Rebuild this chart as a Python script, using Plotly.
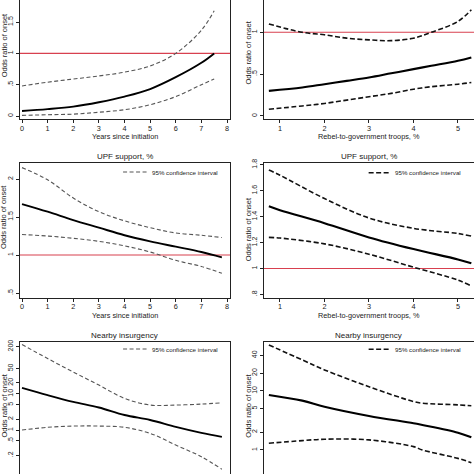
import math
import plotly.graph_objects as go

FONT = "Liberation Sans, Arial, sans-serif"
REF = 1.0

# ---------------- data ----------------
# Panel 1: top-left (years since initiation)
p1_x = [0, 1, 2, 3, 4, 5, 6, 7, 7.5]
p1_est = [0.08, 0.11, 0.15, 0.22, 0.31, 0.43, 0.62, 0.85, 1.0]
p1_up = [0.48, 0.54, 0.59, 0.64, 0.70, 0.80, 1.00, 1.37, 1.68]
p1_lo = [0.01, 0.02, 0.03, 0.06, 0.10, 0.18, 0.31, 0.50, 0.59]

# Panel 2: top-right (rebel-to-government troops)
p2_x = [0.75, 1.5, 2, 2.5, 3, 3.5, 4, 4.4, 5, 5.3]
p2_est = [0.30, 0.34, 0.38, 0.42, 0.46, 0.51, 0.56, 0.60, 0.66, 0.70]
p2_up = [1.10, 1.00, 0.97, 0.93, 0.91, 0.90, 0.93, 1.00, 1.13, 1.27]
p2_lo = [0.08, 0.12, 0.15, 0.19, 0.23, 0.27, 0.32, 0.35, 0.38, 0.40]

# Panel 3: UPF support, years since initiation
p3_x = [0, 1, 2, 3, 4, 5, 6, 7, 7.8]
p3_est = [1.67, 1.57, 1.46, 1.36, 1.26, 1.18, 1.11, 1.04, 0.97]
p3_up = [2.15, 1.99, 1.75, 1.57, 1.45, 1.36, 1.29, 1.26, 1.23]
p3_lo = [1.27, 1.25, 1.22, 1.18, 1.12, 1.04, 0.93, 0.85, 0.76]

# Panel 4: UPF support, rebel-to-government troops
p4_x = [0.75, 1, 2, 3, 4, 5, 5.3]
p4_est = [1.48, 1.45, 1.35, 1.24, 1.15, 1.07, 1.04]
p4_up = [1.76, 1.72, 1.54, 1.39, 1.31, 1.27, 1.25]
p4_lo = [1.24, 1.235, 1.19, 1.11, 1.01, 0.91, 0.865]

# Panel 5: Nearby insurgency, years since initiation (log scale)
p5_x = [0, 1, 2, 3, 4, 5, 6, 7, 7.8]
p5_est = [14.6, 9.2, 6.0, 4.2, 2.6, 1.9, 1.23, 0.84, 0.65]
p5_up = [229, 94, 40, 17.4, 7.5, 4.9, 4.9, 5.2, 5.65]
p5_lo = [1.0, 1.19, 1.29, 1.29, 1.19, 0.81, 0.386, 0.184, 0.083]

# Panel 6: Nearby insurgency, rebel-to-government troops (log scale)
p6_x = [0.75, 1.5, 2, 3, 4, 4.2, 5, 5.3]
p6_est = [8.55, 6.85, 5.4, 3.77, 2.84, 2.65, 1.96, 1.64]
p6_up = [60, 33.5, 22.7, 11.8, 6.6, 6.2, 5.8, 5.6]
p6_lo = [1.30, 1.44, 1.52, 1.48, 1.14, 1.0, 0.72, 0.61]

# tick labels
years_ticks = [0, 1, 2, 3, 4, 5, 6, 7, 8]
troops_ticks = [1, 2, 3, 4, 5]
p1_yvals = [0, 0.5, 1, 1.5]
p1_ytext = ["0", ".5", "1", "1.5"]
p2_yvals = [0, 0.5, 1]
p2_ytext = ["0", ".5", "1"]
p3_yvals = [0.5, 1, 1.5, 2]
p3_ytext = [".5", "1", "1.5", "2"]
p4_yvals = [0.8, 1, 1.2, 1.4, 1.6, 1.8]
p4_ytext = [".8", "1", "1.2", "1.4", "1.6", "1.8"]
p5_yvals = [0.2, 0.5, 1, 2, 5, 10, 20, 50, 200]
p5_ytext = [".2", ".5", "1", "2", "5", "10", "20", "50", "200"]
p6_yvals = [1, 2, 5, 10, 20, 40]
p6_ytext = ["1", "2", "5", "10", "20", "40"]

x_title_years = "Years since initiation"
x_title_troops = "Rebel-to-government troops, %"
y_title = "Odds ratio of onset"
title_upf = "UPF support, %"
title_nearby = "Nearby insurgency"
legend_label = "95% confidence interval"

# ---------------- layout geometry ----------------
W = H = 474
xL = [19.5 / W, 230 / W]
xR = [263.7 / W, 1.0]
yTop = [1 - 119 / H, 1.0]
yMid = [1 - 297.5 / H, 1 - 163.3 / H]
yBot = [0.0, 1 - 342.2 / H]

panels = [
    dict(x=p1_x, est=p1_est, up=p1_up, lo=p1_lo, xd=xL, yd=yTop, xr=[-0.098, 8.117], yr=[-0.048, 1.853],
         xt=years_ticks, yv=p1_yvals, yt=p1_ytext, log=False, col="L", row="T", title=None,
         xtitle=x_title_years, ytpos=0.62, leg=None),
    dict(x=p2_x, est=p2_est, up=p2_up, lo=p2_lo, xd=xR, yd=yTop, xr=[0.634, 5.36], yr=[-0.036, 1.386],
         xt=troops_ticks, yv=p2_yvals, yt=p2_ytext, log=False, col="R", row="T", title=None,
         xtitle=x_title_troops, ytpos=0.56, leg=None),
    dict(x=p3_x, est=p3_est, up=p3_up, lo=p3_lo, xd=xL, yd=yMid, xr=[-0.098, 8.117], yr=[0.441, 2.207],
         xt=years_ticks, yv=p3_yvals, yt=p3_ytext, log=False, col="L", row="M", title=title_upf,
         xtitle=x_title_years, ytpos=0.60, leg=(0.492, 0.606, 0.935)),
    dict(x=p4_x, est=p4_est, up=p4_up, lo=p4_lo, xd=xR, yd=yMid, xr=[0.634, 5.36], yr=[0.776, 1.812],
         xt=troops_ticks, yv=p4_yvals, yt=p4_ytext, log=False, col="R", row="M", title=title_upf,
         xtitle=x_title_troops, ytpos=0.51, leg=(0.499, 0.601, 0.930)),
    dict(x=p5_x, est=p5_est, up=p5_up, lo=p5_lo, xd=xL, yd=yBot, xr=[-0.098, 8.117], yr=[-1.212, 2.424],
         xt=years_ticks, yv=p5_yvals, yt=p5_ytext, log=True, col="L", row="B", title=title_nearby,
         xtitle=None, ytpos=0.52, leg=(0.492, 0.606, 0.948)),
    dict(x=p6_x, est=p6_est, up=p6_up, lo=p6_lo, xd=xR, yd=yBot, xr=[0.634, 5.36], yr=[-0.407, 1.825],
         xt=troops_ticks, yv=p6_yvals, yt=p6_ytext, log=True, col="R", row="B", title=title_nearby,
         xtitle=None, ytpos=0.52, leg=(0.499, 0.601, 0.946)),
]

AX = "#222222"
TXT = "#222222"
fig = go.Figure()
layout = dict(width=W, height=H, margin=dict(l=0, r=0, t=0, b=0, autoexpand=False),
              paper_bgcolor="white", plot_bgcolor="white",
              font=dict(family=FONT, size=7.5, color=TXT), showlegend=False)
shapes, annos = [], []

for i, p in enumerate(panels, start=1):
    sfx = "" if i == 1 else str(i)
    xa, ya = "x" + sfx, "y" + sfx
    left = p["col"] == "L"
    dcol = "#555555" if left else "#111111"
    dw = 1.1 if left else 1.6
    dpat = "4px,2.5px" if left else "5px,2.5px"
    for series in (p["lo"], p["up"]):
        fig.add_trace(go.Scatter(x=p["x"], y=series, mode="lines", xaxis=xa, yaxis=ya,
                                 line=dict(color=dcol, width=dw, dash=dpat, shape="spline"),
                                 hoverinfo="skip"))
    fig.add_trace(go.Scatter(x=p["x"], y=p["est"], mode="lines", xaxis=xa, yaxis=ya,
                             line=dict(color="black", width=1.9 if left else 2.1, shape="spline"),
                             hoverinfo="skip"))

    row = p["row"]
    xaxis = dict(domain=p["xd"], range=p["xr"], anchor=ya, showgrid=False, zeroline=False,
                 showline=True, linecolor=AX, linewidth=1, automargin=False,
                 tickmode="array", tickvals=p["xt"], ticks="outside", ticklen=3,
                 ticklabelstandoff=-1,
                 tickcolor=AX, tickfont=dict(size=7.3, family=FONT, color=TXT))
    if row == "T":
        xaxis.update(mirror=False)
    elif row == "M":
        xaxis.update(mirror=True)
    else:
        xaxis.update(side="top", ticks="", showticklabels=False)
    yaxis = dict(domain=p["yd"], range=p["yr"], anchor=xa, showgrid=False, zeroline=False,
                 type="log" if p["log"] else "linear", automargin=False,
                 showline=True, linecolor=AX, linewidth=1, mirror=left,
                 tickmode="array", tickvals=p["yv"], ticktext=p["yt"], ticks="outside",
                 ticklen=3, tickcolor=AX, tickangle=-90,
                 tickfont=dict(size=7, family=FONT, color=TXT))
    layout["xaxis" + sfx] = xaxis
    layout["yaxis" + sfx] = yaxis

    yref_val = math.log10(REF) if p["log"] else REF
    shapes.append(dict(type="line", xref=xa + " domain", x0=0, x1=1, yref=ya, y0=yref_val, y1=yref_val,
                       line=dict(color="#d8404f", width=1.1), layer="below"))

    if p["title"]:
        annos.append(dict(text=p["title"], xref=xa + " domain", x=0.5, yref=ya + " domain", y=1,
                          yanchor="bottom", yshift=0, showarrow=False,
                          font=dict(size=8, family=FONT, color=TXT)))
    if p["xtitle"]:
        annos.append(dict(text=p["xtitle"], xref=xa + " domain", x=0.5, yref=ya + " domain", y=0,
                          yanchor="middle", yshift=-17.5, showarrow=False,
                          font=dict(size=7.3, family=FONT, color=TXT)))
    annos.append(dict(text=y_title, xref=xa + " domain", x=0, xanchor="center", xshift=-15.5,
                      yref=ya + " domain", y=p["ytpos"], yanchor="middle", textangle=-90,
                      showarrow=False, font=dict(size=7.5, family=FONT, color=TXT)))

    if p["leg"]:
        lx0, lx1, ly = p["leg"]
        shapes.append(dict(type="line", xref=xa + " domain", x0=lx0, x1=lx1,
                           yref=ya + " domain", y0=ly, y1=ly,
                           line=dict(color=dcol, width=dw, dash=dpat)))
        annos.append(dict(text=legend_label, xref=xa + " domain", x=lx1, xanchor="left", xshift=3,
                          yref=ya + " domain", y=ly, yanchor="middle", showarrow=False,
                          font=dict(size=6.2, family=FONT, color=TXT)))

layout["shapes"] = shapes
layout["annotations"] = annos
fig.update_layout(**layout)
fig.write_html("out.html")
